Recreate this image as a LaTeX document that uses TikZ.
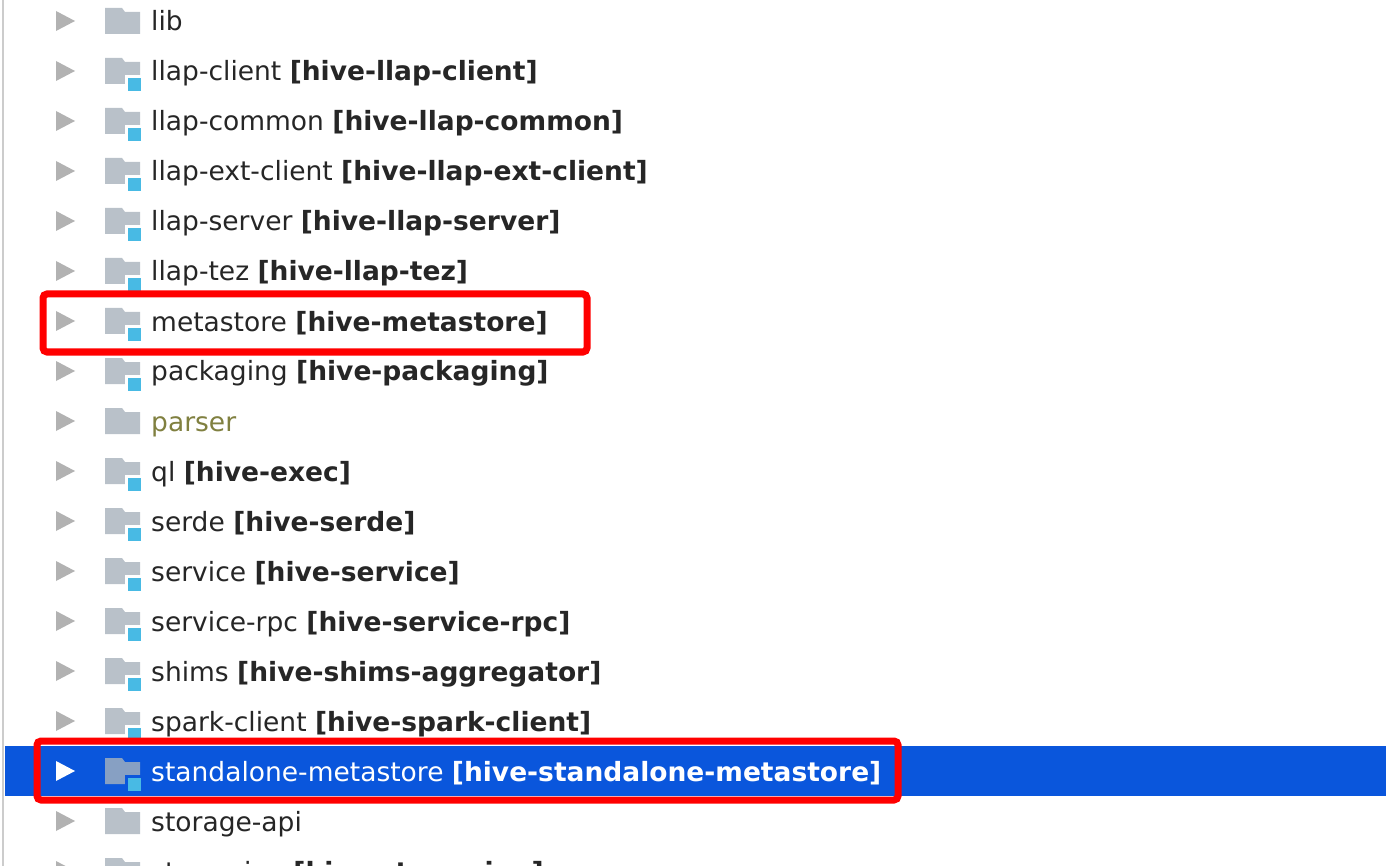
\documentclass[tikz,border=0pt]{standalone}
\usepackage{fontspec}
\setmainfont{DejaVu Sans}
\definecolor{selbg}{RGB}{10,86,220}
\definecolor{fold}{RGB}{185,193,201}
\definecolor{foldsel}{RGB}{135,160,195}
\definecolor{modsq}{RGB}{72,186,228}
\definecolor{olive}{RGB}{128,128,64}
\begin{document}
\begin{tikzpicture}[x=1pt,y=-1pt,
  lbl/.style={anchor=base west,inner sep=0,font=\fontsize{26.5}{30}\selectfont,text=black!85},
  redbox/.style={draw=red,line width=7pt,rounded corners=4pt}]
\useasboundingbox (0,0) rectangle (1386,866);
\fill[white] (0,0) rectangle (1386,866);
\draw[black!20,line width=1.5pt] (3,0) -- (3,866);
\fill[selbg] (5,746) rectangle (1386,796);
\begin{scope}
\clip (0,0) rectangle (1386,866);
\foreach \i/\a/\b/\m in {
0/lib//0, 1/llap-client /hive-llap-client/1, 2/llap-common /hive-llap-common/1,
3/llap-ext-client /hive-llap-ext-client/1, 4/llap-server /hive-llap-server/1,
5/llap-tez /hive-llap-tez/1, 6/metastore /hive-metastore/1, 7/packaging /hive-packaging/1,
9/ql /hive-exec/1, 10/serde /hive-serde/1, 11/service /hive-service/1,
12/service-rpc /hive-service-rpc/1, 13/shims /hive-shims-aggregator/1,
14/spark-client /hive-spark-client/1, 16/storage-api//0, 17/streaming /hive-streaming/1}{
  \pgfmathsetmacro\yy{21+50*\i}
  \fill[black!30] (56,\yy-10) -- (75,\yy) -- (56,\yy+10) -- cycle;
  \fill[fold] (105,\yy-13) -- (122,\yy-13) -- (125,\yy-9) -- (140,\yy-9) -- (140,\yy+13) -- (105,\yy+13) -- cycle;
  \ifnum\m=1
    \fill[white] (125,\yy+4) rectangle (143,\yy+22);
    \fill[modsq] (128,\yy+7) rectangle (141,\yy+20);
    \node[lbl] (t\i) at (151,\yy+10) {\a\textbf{[\b]}};
  \else
    \node[lbl] (t\i) at (151,\yy+10) {\a};
  \fi
}
\end{scope}
% parser
\fill[black!30] (56,411) -- (75,421) -- (56,431) -- cycle;
\fill[fold] (105,408) -- (122,408) -- (125,412) -- (140,412) -- (140,434) -- (105,434) -- cycle;
\node[lbl,text=olive] (t8) at (151,431) {parser};
% selected
\fill[white] (56,761) -- (75,771) -- (56,781) -- cycle;
\fill[foldsel] (105,758) -- (122,758) -- (125,762) -- (140,762) -- (140,784) -- (105,784) -- cycle;
\fill[selbg] (125,775) rectangle (143,793);
\fill[modsq] (128,778) rectangle (141,791);
\node[lbl,text=white] (t15) at (151,781) {standalone-metastore \textbf{[hive-standalone-metastore]}};
\draw[redbox] (43,294) rectangle (587,352);
\draw[redbox] (37,741) rectangle (898,800);
\end{tikzpicture}
\end{document}
